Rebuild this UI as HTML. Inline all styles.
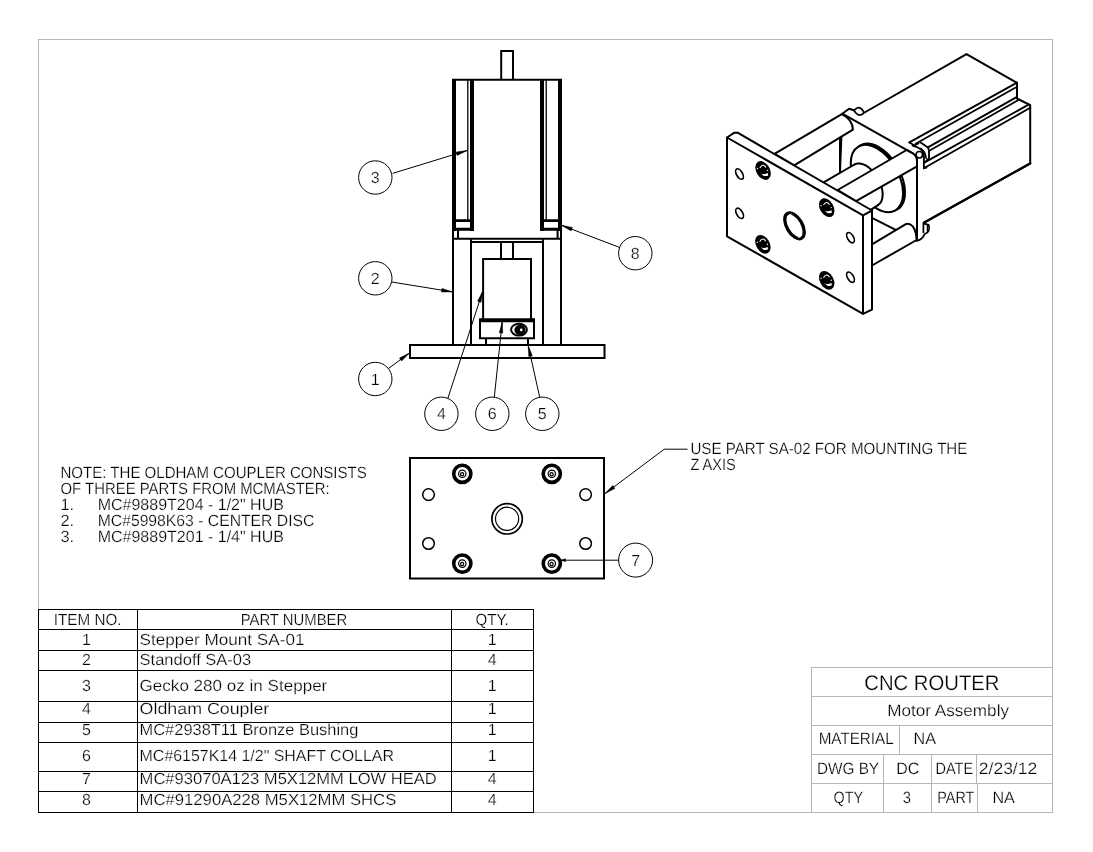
<!DOCTYPE html>
<html><head><meta charset="utf-8"><title>CNC Router - Motor Assembly</title>
<style>
html,body{margin:0;padding:0;background:#fff;}
svg{display:block;font-family:"Liberation Sans",sans-serif;text-rendering:geometricPrecision;}
</style></head><body>
<svg width="1093" height="852" viewBox="0 0 1093 852" style="filter:grayscale(1)">
<rect width="1093" height="852" fill="#fff"/>
<g fill="none" stroke="#b6b6b6" stroke-width="1" shape-rendering="crispEdges">
<rect x="38.5" y="39.5" width="1014" height="773"/>
<path d="M811.5 812.5V667.5H1052.5 M811.5 696.5H1052.5 M811.5 725.5H1052.5 M811.5 754.5H1052.5 M811.5 783.5H1052.5 M899.5 725.5V754.5 M883.5 754.5V812.5 M931.5 754.5V812.5 M976.5 754.5V783.5 M977.5 783.5V812.5"/>
</g>
<g fill="#000" stroke="#fff" stroke-width="0.25">
<text x="864.3" y="690.3" font-size="21.2" text-anchor="start" textLength="135.2" lengthAdjust="spacingAndGlyphs">CNC ROUTER</text>
<text x="887.3" y="715.9" font-size="16.4" text-anchor="start" textLength="121.7" lengthAdjust="spacingAndGlyphs">Motor Assembly</text>
<text x="818.7" y="744.1" font-size="16.4" text-anchor="start" textLength="75.0" lengthAdjust="spacingAndGlyphs">MATERIAL</text>
<text x="913.5" y="744.1" font-size="16.4" text-anchor="start" textLength="22.5" lengthAdjust="spacingAndGlyphs">NA</text>
<text x="816.9" y="774.3" font-size="16.4" text-anchor="start" textLength="62.2" lengthAdjust="spacingAndGlyphs">DWG BY</text>
<text x="896.3" y="774.3" font-size="16.4" text-anchor="start" textLength="23.1" lengthAdjust="spacingAndGlyphs">DC</text>
<text x="935.5" y="774.3" font-size="16.4" text-anchor="start" textLength="37.6" lengthAdjust="spacingAndGlyphs">DATE</text>
<text x="978.8" y="774.3" font-size="16.4" text-anchor="start" textLength="58.4" lengthAdjust="spacingAndGlyphs">2/23/12</text>
<text x="833.5" y="803.0" font-size="16.4" text-anchor="start" textLength="29.5" lengthAdjust="spacingAndGlyphs">QTY</text>
<text x="902.7" y="803.0" font-size="16.4" text-anchor="start" textLength="8.2" lengthAdjust="spacingAndGlyphs">3</text>
<text x="937.3" y="803.0" font-size="16.4" text-anchor="start" textLength="37.1" lengthAdjust="spacingAndGlyphs">PART</text>
<text x="992.4" y="803.0" font-size="16.4" text-anchor="start" textLength="22.5" lengthAdjust="spacingAndGlyphs">NA</text>
</g>
<g fill="none" stroke="#000" stroke-width="1" shape-rendering="crispEdges">
<path d="M38.5 609.5V812.5 M137.5 609.5V812.5 M451.5 609.5V812.5 M533.5 609.5V812.5 M38 609.5H534 M38 629.5H534 M38 650.5H534 M38 670.5H534 M38 701.5H534 M38 722.5H534 M38 742.5H534 M38 771.5H534 M38 791.5H534 M38 812.5H534"/>
</g>
<g fill="#000" stroke="#fff" stroke-width="0.25">
<text x="53.8" y="624.6" font-size="16" text-anchor="start" textLength="67.8" lengthAdjust="spacingAndGlyphs">ITEM NO.</text>
<text x="240.7" y="624.6" font-size="16" text-anchor="start" textLength="106.5" lengthAdjust="spacingAndGlyphs">PART NUMBER</text>
<text x="475.5" y="624.6" font-size="16" text-anchor="start" textLength="33.3" lengthAdjust="spacingAndGlyphs">QTY.</text>
<text x="86.5" y="644.8" font-size="16" text-anchor="middle">1</text>
<text x="139.6" y="644.8" font-size="16" text-anchor="start" textLength="164.9" lengthAdjust="spacingAndGlyphs">Stepper Mount SA-01</text>
<text x="492.3" y="644.8" font-size="16" text-anchor="middle">1</text>
<text x="86.5" y="665.4" font-size="16" text-anchor="middle">2</text>
<text x="139.6" y="665.4" font-size="16" text-anchor="start" textLength="111.6" lengthAdjust="spacingAndGlyphs">Standoff SA-03</text>
<text x="492.3" y="665.4" font-size="16" text-anchor="middle">4</text>
<text x="86.5" y="690.5" font-size="16" text-anchor="middle">3</text>
<text x="139.6" y="690.5" font-size="16" text-anchor="start" textLength="187.7" lengthAdjust="spacingAndGlyphs">Gecko 280 oz in Stepper</text>
<text x="492.3" y="690.5" font-size="16" text-anchor="middle">1</text>
<text x="86.5" y="714.3" font-size="16" text-anchor="middle">4</text>
<text x="139.6" y="714.3" font-size="16" text-anchor="start" textLength="129.7" lengthAdjust="spacingAndGlyphs">Oldham Coupler</text>
<text x="492.3" y="714.3" font-size="16" text-anchor="middle">1</text>
<text x="86.5" y="735.0" font-size="16" text-anchor="middle">5</text>
<text x="139.6" y="735.0" font-size="16" text-anchor="start" textLength="218.7" lengthAdjust="spacingAndGlyphs">MC#2938T11 Bronze Bushing</text>
<text x="492.3" y="735.0" font-size="16" text-anchor="middle">1</text>
<text x="86.5" y="761.4" font-size="16" text-anchor="middle">6</text>
<text x="139.6" y="761.4" font-size="16" text-anchor="start" textLength="254.3" lengthAdjust="spacingAndGlyphs">MC#6157K14 1/2&quot; SHAFT COLLAR</text>
<text x="492.3" y="761.4" font-size="16" text-anchor="middle">1</text>
<text x="86.5" y="784.4" font-size="16" text-anchor="middle">7</text>
<text x="139.6" y="784.4" font-size="16" text-anchor="start" textLength="297.2" lengthAdjust="spacingAndGlyphs">MC#93070A123 M5X12MM LOW HEAD</text>
<text x="492.3" y="784.4" font-size="16" text-anchor="middle">4</text>
<text x="86.5" y="804.7" font-size="16" text-anchor="middle">8</text>
<text x="139.6" y="804.7" font-size="16" text-anchor="start" textLength="256.7" lengthAdjust="spacingAndGlyphs">MC#91290A228 M5X12MM SHCS</text>
<text x="492.3" y="804.7" font-size="16" text-anchor="middle">4</text>
</g>
<g fill="#000" stroke="#fff" stroke-width="0.25">
<text x="60.5" y="478.4" font-size="16.3" text-anchor="start" textLength="306.3" lengthAdjust="spacingAndGlyphs">NOTE: THE OLDHAM COUPLER CONSISTS</text>
<text x="60.5" y="494.3" font-size="16.3" text-anchor="start" textLength="269.1" lengthAdjust="spacingAndGlyphs">OF THREE PARTS FROM MCMASTER:</text>
<text x="60.5" y="510.2" font-size="16.3" text-anchor="start">1.</text>
<text x="97.7" y="510.2" font-size="16.3" text-anchor="start" textLength="186.2" lengthAdjust="spacingAndGlyphs">MC#9889T204 - 1/2&quot; HUB</text>
<text x="60.5" y="526.1" font-size="16.3" text-anchor="start">2.</text>
<text x="97.7" y="526.1" font-size="16.3" text-anchor="start" textLength="216.7" lengthAdjust="spacingAndGlyphs">MC#5998K63 - CENTER DISC</text>
<text x="60.5" y="542.1" font-size="16.3" text-anchor="start">3.</text>
<text x="97.7" y="542.1" font-size="16.3" text-anchor="start" textLength="186.2" lengthAdjust="spacingAndGlyphs">MC#9889T201 - 1/4&quot; HUB</text>
<text x="690.4" y="454.2" font-size="16.3" text-anchor="start" textLength="277.0" lengthAdjust="spacingAndGlyphs">USE PART SA-02 FOR MOUNTING THE</text>
<text x="690.4" y="469.8" font-size="16.3" text-anchor="start" textLength="45.3" lengthAdjust="spacingAndGlyphs">Z AXIS</text>
</g>
<g fill="none" stroke="#000" stroke-width="2" stroke-linecap="butt" stroke-linejoin="miter">
<path d="M501.2 79.8V51H513V79.8"/>
<path d="M452 79.8H562"/>
<path d="M453 229V345 M471 239V345 M543 239V345 M561 229V345"/>
<path d="M452 238.8H562 M470 242H544"/>
<path d="M458 230V239 M557.6 230V239"/>
<path d="M501 243V259 M513 243V259"/>
<path d="M483.1 320V259H531V320"/>
<path d="M480 320V338.2H534V320"/>
<path d="M486 339V345 M528 339V345"/>
<rect x="410" y="345" width="194.5" height="13"/>
</g>
<g fill="none" stroke="#000" stroke-linecap="butt">
<path d="M454 79V231 M472 80V231 M542 80V231 M560 79V231" stroke-width="4"/>
<path d="M467.8 80V221 M546.2 80V221" stroke-width="1.3"/>
<path d="M455 220.6H470.5 M543.5 220.6H559" stroke-width="2.6"/>
<path d="M452 229.3H474 M540 229.3H562" stroke-width="3"/>
<path d="M479 320.2H535" stroke-width="4"/>
</g>
<ellipse cx="519" cy="329.7" rx="7.9" ry="5.9" fill="#fff" stroke="#000" stroke-width="2"/>
<ellipse cx="520" cy="329.9" rx="5.6" ry="5.2" fill="#000"/>
<circle cx="521.2" cy="329.9" r="1.3" fill="#fff"/>
<circle cx="375.3" cy="177.5" r="16.7" fill="none" stroke="#000" stroke-width="1"/><text x="375.3" y="183.1" font-size="16" text-anchor="middle" fill="#000" stroke="#fff" stroke-width="0.25">3</text>
<circle cx="375.3" cy="278.3" r="16.7" fill="none" stroke="#000" stroke-width="1"/><text x="375.3" y="283.90000000000003" font-size="16" text-anchor="middle" fill="#000" stroke="#fff" stroke-width="0.25">2</text>
<circle cx="375.3" cy="379" r="16.7" fill="none" stroke="#000" stroke-width="1"/><text x="375.3" y="384.6" font-size="16" text-anchor="middle" fill="#000" stroke="#fff" stroke-width="0.25">1</text>
<circle cx="441.4" cy="413.8" r="16.7" fill="none" stroke="#000" stroke-width="1"/><text x="441.4" y="419.40000000000003" font-size="16" text-anchor="middle" fill="#000" stroke="#fff" stroke-width="0.25">4</text>
<circle cx="492.3" cy="413.8" r="16.7" fill="none" stroke="#000" stroke-width="1"/><text x="492.3" y="419.40000000000003" font-size="16" text-anchor="middle" fill="#000" stroke="#fff" stroke-width="0.25">6</text>
<circle cx="542.3" cy="413.8" r="16.7" fill="none" stroke="#000" stroke-width="1"/><text x="542.3" y="419.40000000000003" font-size="16" text-anchor="middle" fill="#000" stroke="#fff" stroke-width="0.25">5</text>
<circle cx="635.3" cy="253.2" r="16.7" fill="none" stroke="#000" stroke-width="1"/><text x="635.3" y="258.8" font-size="16" text-anchor="middle" fill="#000" stroke="#fff" stroke-width="0.25">8</text>
<circle cx="635.6" cy="560.1" r="17" fill="none" stroke="#000" stroke-width="1"/><text x="635.6" y="565.7" font-size="16" text-anchor="middle" fill="#000" stroke="#fff" stroke-width="0.25">7</text>
<path d="M392.6 173.4L467.2 150.5" stroke="#000" stroke-width="1.0" fill="none"/><path d="M467.2 150.5L457.2 155.4L456.2 152.0Z" fill="#000" stroke="#000" stroke-width="0.5"/>
<path d="M391.8 282.0L452.6 291.9" stroke="#000" stroke-width="1.0" fill="none"/><path d="M452.6 291.9L441.5 291.9L442.0 288.4Z" fill="#000" stroke="#000" stroke-width="0.5"/>
<path d="M388.5 368.5L409.4 353.0" stroke="#000" stroke-width="1.0" fill="none"/><path d="M409.4 353.0L401.6 361.0L399.5 358.1Z" fill="#000" stroke="#000" stroke-width="0.5"/>
<path d="M447.8 398.5L482.7 291.3" stroke="#000" stroke-width="1.0" fill="none"/><path d="M482.7 291.3L481.0 302.3L477.6 301.2Z" fill="#000" stroke="#000" stroke-width="0.5"/>
<path d="M494.3 397.3L502.2 322.0" stroke="#000" stroke-width="1.0" fill="none"/><path d="M502.2 322.0L502.8 333.1L499.3 332.8Z" fill="#000" stroke="#000" stroke-width="0.5"/>
<path d="M539.7 397.3L528.2 345.5" stroke="#000" stroke-width="1.0" fill="none"/><path d="M528.2 345.5L532.3 355.8L528.8 356.6Z" fill="#000" stroke="#000" stroke-width="0.5"/>
<path d="M619.8 247.5L561.5 225.3" stroke="#000" stroke-width="1.0" fill="none"/><path d="M561.5 225.3L572.4 227.5L571.1 230.9Z" fill="#000" stroke="#000" stroke-width="0.5"/>
<path d="M618.6 560.2L561.0 560.2" stroke="#000" stroke-width="1.0" fill="none"/><path d="M561.0 560.2L565.5 558.7L565.5 561.7Z" fill="#000" stroke="#000" stroke-width="0.5"/>
<g fill="none" stroke="#000">
<rect x="410" y="458" width="194" height="120.5" stroke-width="2"/>
<circle cx="462.3" cy="473.8" r="8.6" stroke-width="3.6"/>
<circle cx="462.3" cy="473.8" r="3.7" stroke-width="1.2"/>
<circle cx="462.1" cy="474.2" r="1.6" stroke-width="1.2"/>
<circle cx="551.8" cy="473.8" r="8.6" stroke-width="3.6"/>
<circle cx="551.8" cy="473.8" r="3.7" stroke-width="1.2"/>
<circle cx="551.5999999999999" cy="474.2" r="1.6" stroke-width="1.2"/>
<circle cx="462.3" cy="563.6" r="8.6" stroke-width="3.6"/>
<circle cx="462.3" cy="563.6" r="3.7" stroke-width="1.2"/>
<circle cx="462.1" cy="564.0" r="1.6" stroke-width="1.2"/>
<circle cx="551.8" cy="563.6" r="8.6" stroke-width="3.6"/>
<circle cx="551.8" cy="563.6" r="3.7" stroke-width="1.2"/>
<circle cx="551.5999999999999" cy="564.0" r="1.6" stroke-width="1.2"/>
<circle cx="428.5" cy="494.6" r="5.8" stroke-width="1.5"/>
<circle cx="428.5" cy="543.5" r="5.8" stroke-width="1.5"/>
<circle cx="585.6" cy="494.6" r="5.8" stroke-width="1.5"/>
<circle cx="585.6" cy="543.5" r="5.8" stroke-width="1.5"/>
<circle cx="507.1" cy="518.8" r="15.2" stroke-width="1.7"/>
<circle cx="507.1" cy="518.8" r="11.6" stroke-width="1.2"/>
</g>
<path d="M687.5 449.2H664.3" stroke="#000" stroke-width="1" fill="none"/>
<path d="M664.3 449.2L605.0 493.6" stroke="#000" stroke-width="1.0" fill="none"/><path d="M605.0 493.6L612.7 485.6L614.9 488.4Z" fill="#000" stroke="#000" stroke-width="0.5"/>
<g>
<path d="M863.7 113L966.5 54.1L1017 82.9V98.5L1030.2 105.2V163.4L923.9 222.7" fill="none" stroke="#000" stroke-width="2.0" stroke-linejoin="round" stroke-linecap="round"/>
<path d="M909.4 142.4L1017 82.6" fill="none" stroke="#000" stroke-width="1.9" stroke-linejoin="round" stroke-linecap="round"/>
<path d="M915.6 143.8L1017 86.8" fill="none" stroke="#000" stroke-width="1.7" stroke-linejoin="round" stroke-linecap="round"/>
<path d="M927.9 147.4L1017 96.8" fill="none" stroke="#000" stroke-width="1.9" stroke-linejoin="round" stroke-linecap="round"/>
<path d="M929.3 150.8L1018 100.3" fill="none" stroke="#000" stroke-width="1.7" stroke-linejoin="round" stroke-linecap="round"/>
<path d="M925.2 162.2L1029 104.4" fill="none" stroke="#000" stroke-width="1.9" stroke-linejoin="round" stroke-linecap="round"/>
<path d="M923.8 168.2L1030.2 107.8" fill="none" stroke="#000" stroke-width="1.8" stroke-linejoin="round" stroke-linecap="round"/>
<path d="M909.4 142.4L914.6 145.4L918.6 143.2" fill="none" stroke="#000" stroke-width="1.7" stroke-linejoin="round" stroke-linecap="round"/>
<path d="M920.6 142.4L927.9 147.4" fill="none" stroke="#000" stroke-width="1.8" stroke-linejoin="round" stroke-linecap="round"/>
<path d="M927.9 147.4Q929 149 929 151V158.2L925.2 162.2" fill="none" stroke="#000" stroke-width="1.8" stroke-linejoin="round" stroke-linecap="round"/>
<path d="M912.6 145.6Q923.6 148.6 923.9 155V168.2L926.4 167.6" fill="none" stroke="#000" stroke-width="1.9" stroke-linejoin="round" stroke-linecap="round"/>
<path d="M920.8 148.4Q925.6 151.5 926.2 158.4" fill="none" stroke="#000" stroke-width="1.5" stroke-linejoin="round" stroke-linecap="round"/>
<circle cx="919.3" cy="154.8" r="3.2" fill="#fff" stroke="#000" stroke-width="1.5"/>
<path d="M917 240.7Q922.5 239.5 924.4 234.4L927.6 232.3Q930 229.5 928.7 224.9L923.4 223.4V232.5" fill="none" stroke="#000" stroke-width="1.7" stroke-linejoin="round" stroke-linecap="round"/>
<path d="M927.4 225V231.8" fill="none" stroke="#000" stroke-width="1.2" stroke-linejoin="round" stroke-linecap="round"/>
<path d="M923.9 222.7L1030.2 163.4" fill="none" stroke="#000" stroke-width="2.3" stroke-linejoin="round" stroke-linecap="round"/>
<path d="M842.3 113.7L849.1 108.8L853.8 110.2" fill="none" stroke="#000" stroke-width="2.0" stroke-linejoin="round" stroke-linecap="round"/>
<path d="M853.8 110.2L857.8 107.6Q861.6 107.4 863.7 112Q863.6 114.6 859.4 115.2Q856 114.2 853.8 110.2Z" fill="#fff" stroke="#000" stroke-width="1.7" stroke-linejoin="round" stroke-linecap="round"/>
<path d="M842.3 113.7L912.8 153.4Q916.6 155.5 917 160.5V240.7L872 217.8V190L840 172Z" fill="#fff" stroke="#000" stroke-width="2.0" stroke-linejoin="round" stroke-linecap="round"/>
<path d="M840 137V172.5" fill="none" stroke="#000" stroke-width="2.0" stroke-linejoin="round" stroke-linecap="round"/>
<ellipse cx="878.8" cy="177.4" rx="21.4" ry="36.9" transform="rotate(-30 878.8 177.4)" fill="#fff" stroke="#000" stroke-width="2.0"/>
<ellipse cx="876.9" cy="178.5" rx="21.4" ry="36.9" transform="rotate(-30 876.9 178.5)" fill="#fff" stroke="#000" stroke-width="2.0"/>
<path d="M898.8 208.0L899.4 207.4L899.9 206.8L900.4 206.1L900.9 205.4L901.4 204.7L901.8 203.9L902.2 203.0L902.6 202.2L902.9 201.3L903.2 200.3L903.4 199.4L903.7 198.4L903.8 197.3L904.0 196.3L904.1 195.2L904.1 194.1L904.2 192.9L904.2 191.8L904.1 190.6L904.0 189.4L903.9 188.2L903.8 187.0L903.6 185.8L903.3 184.5" fill="none" stroke="#000" stroke-width="3.0" stroke-linejoin="round" stroke-linecap="round"/>
<path d="M891.2 159.2L890.4 158.3L889.7 157.4L888.9 156.5L888.1 155.7L887.3 154.9L886.5 154.1L885.7 153.3L884.9 152.6L884.0 151.9L883.2 151.2L882.4 150.5L881.5 149.9L880.7 149.3L879.8 148.7L878.9 148.2L878.1 147.7L877.2 147.2L876.4 146.8L875.5 146.3L874.6 146.0L873.8 145.6L873.0 145.3L872.1 145.1L871.3 144.8" fill="none" stroke="#000" stroke-width="3.0" stroke-linejoin="round" stroke-linecap="round"/>
<path d="M774.5 153.9L841.8 114.2Q852.6 119.6 852.9 129.6L794.2 165.4Z" fill="#fff" stroke="#000" stroke-width="2.0" stroke-linejoin="round" stroke-linecap="round"/>
<path d="M823.6 182.3L854.4 164.5L854.5 164.5L856.1 163.8L857.9 163.5L859.8 163.5L861.9 163.9L864.0 164.6L866.1 165.7L868.3 167.1L870.4 168.9L872.4 170.9L874.4 173.1L876.2 175.5L877.8 178.1L879.2 180.8L880.4 183.6L881.4 186.4L882.1 189.1L882.5 191.8L882.7 194.4L882.5 196.8L882.1 199.0L881.5 201.0L880.5 202.6L879.3 204.0L877.9 205.1L862 215.6Z" fill="#fff" stroke="#000" stroke-width="0" stroke-linejoin="round" stroke-linecap="round"/>
<path d="M854.5 164.5L856.1 163.8L857.9 163.5L859.8 163.5L861.9 163.9L864.0 164.6L866.1 165.7L868.3 167.1L870.4 168.9L872.4 170.9L874.4 173.1L876.2 175.5L877.8 178.1L879.2 180.8L880.4 183.6L881.4 186.4L882.1 189.1L882.5 191.8L882.7 194.4L882.5 196.8L882.1 199.0L881.5 201.0L880.5 202.6L879.3 204.0L877.9 205.1" fill="none" stroke="#000" stroke-width="2.0" stroke-linejoin="round" stroke-linecap="round"/>
<path d="M823.6 182.3L854.5 164.5" fill="none" stroke="#000" stroke-width="2.0" stroke-linejoin="round" stroke-linecap="round"/>
<path d="M877.9 205.1L862 215.6" fill="none" stroke="#000" stroke-width="2.0" stroke-linejoin="round" stroke-linecap="round"/>
<path d="M872 244.4L905.4 224.3Q909 222.6 912.8 226.4Q916.4 231.5 916.6 240L872 265.5Z" fill="#fff" stroke="#000" stroke-width="2.0" stroke-linejoin="round" stroke-linecap="round"/>
<path d="M837.7 190L906.6 150L912.8 153.4Q916.6 155.5 917 160.5V166.3L856 201.2Z" fill="#fff" stroke="#000" stroke-width="2.0" stroke-linejoin="round" stroke-linecap="round"/>
<path d="M727 137.5L734.4 132.7H737.6L872 210.5V309.6L863 313.8L727 236.3Z" fill="#fff" stroke="#000" stroke-width="2.0" stroke-linejoin="round" stroke-linecap="round"/>
<path d="M727 137.5L863 215.3V313.8 M863 215.3L872 210.5" fill="none" stroke="#000" stroke-width="2.0" stroke-linejoin="round" stroke-linecap="round"/>
<ellipse cx="739.5" cy="174" rx="3.0" ry="5.7" transform="rotate(-30 739.5 174)" fill="none" stroke="#000" stroke-width="1.7"/>
<ellipse cx="739.6" cy="213.3" rx="3.0" ry="5.7" transform="rotate(-30 739.6 213.3)" fill="none" stroke="#000" stroke-width="1.7"/>
<ellipse cx="850.5" cy="237.7" rx="3.0" ry="5.7" transform="rotate(-30 850.5 237.7)" fill="none" stroke="#000" stroke-width="1.7"/>
<ellipse cx="850.5" cy="277.2" rx="3.0" ry="5.7" transform="rotate(-30 850.5 277.2)" fill="none" stroke="#000" stroke-width="1.7"/>
<ellipse cx="794.5" cy="225.8" rx="7.7" ry="14.2" transform="rotate(-30 794.5 225.8)" fill="none" stroke="#000" stroke-width="3.3"/>
<path d="M787 217Q788.4 214.6 791.5 214" stroke="#fff" stroke-width="0.8" fill="none"/>
<path d="M802 234.8Q801 237.2 798 237.8" stroke="#fff" stroke-width="0.8" fill="none"/>
<ellipse cx="763.1" cy="170.5" rx="6.8" ry="10.1" transform="rotate(-30 763.1 170.5)" fill="#000" stroke="#000" stroke-width="0"/>
<path d="M759.9 167.9Q761.5 164.9 763.5 165.3Q765.1 165.9 765.9 167.5" stroke="#fff" stroke-width="1.1" fill="none"/>
<path d="M760.9 173.3Q763.6 175.1 768.0 173.1L768.1 175.7Q765.6 176.4 763.7 175.9Z" fill="#fff"/>
<circle cx="757.5" cy="168.5" r="0.7" fill="#fff"/><circle cx="767.6" cy="170.4" r="0.7" fill="#fff"/>
<ellipse cx="762.9" cy="244.3" rx="6.8" ry="10.1" transform="rotate(-30 762.9 244.3)" fill="#000" stroke="#000" stroke-width="0"/>
<path d="M759.7 241.7Q761.3 238.7 763.3 239.1Q764.9 239.7 765.7 241.3" stroke="#fff" stroke-width="1.1" fill="none"/>
<path d="M760.7 247.1Q763.4 248.9 767.8 246.9L767.9 249.5Q765.4 250.2 763.5 249.7Z" fill="#fff"/>
<circle cx="757.3" cy="242.3" r="0.7" fill="#fff"/><circle cx="767.4" cy="244.2" r="0.7" fill="#fff"/>
<ellipse cx="826.7" cy="207.7" rx="6.8" ry="10.1" transform="rotate(-30 826.7 207.7)" fill="#000" stroke="#000" stroke-width="0"/>
<path d="M823.5 205.1Q825.1 202.1 827.1 202.5Q828.7 203.1 829.5 204.7" stroke="#fff" stroke-width="1.1" fill="none"/>
<path d="M824.5 210.5Q827.2 212.3 831.6 210.3L831.7 212.9Q829.2 213.6 827.3 213.1Z" fill="#fff"/>
<circle cx="821.1" cy="205.7" r="0.7" fill="#fff"/><circle cx="831.2" cy="207.6" r="0.7" fill="#fff"/>
<ellipse cx="826.7" cy="280.3" rx="6.8" ry="10.1" transform="rotate(-30 826.7 280.3)" fill="#000" stroke="#000" stroke-width="0"/>
<path d="M823.5 277.7Q825.1 274.7 827.1 275.1Q828.7 275.7 829.5 277.3" stroke="#fff" stroke-width="1.1" fill="none"/>
<path d="M824.5 283.1Q827.2 284.9 831.6 282.9L831.7 285.5Q829.2 286.2 827.3 285.7Z" fill="#fff"/>
<circle cx="821.1" cy="278.3" r="0.7" fill="#fff"/><circle cx="831.2" cy="280.2" r="0.7" fill="#fff"/>
</g>
</svg>
</body></html>
